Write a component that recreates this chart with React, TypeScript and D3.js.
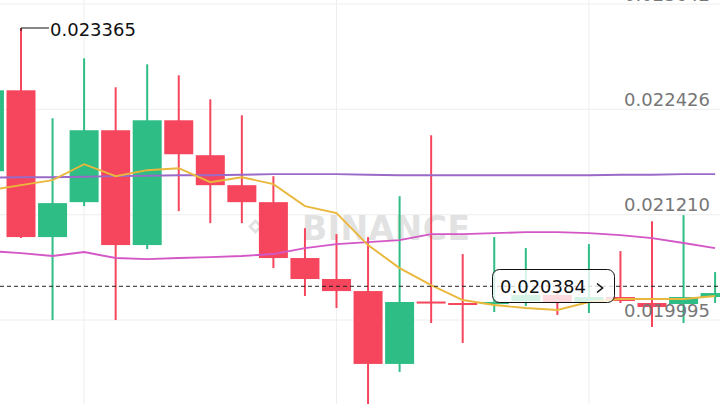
import React from "react";
import * as d3 from "d3";

const W = 720;
const H = 404;

// OHLC per candle (index -1 is partially cut at the left edge)
const candleIndex = [-1, 0, 1, 2, 3, 4, 5, 6, 7, 8, 9, 10, 11, 12, 13, 14, 15, 16, 17, 18, 19, 20, 21, 22];
const opens = [0.021712, 0.022646, 0.020952, 0.021355, 0.022185, 0.020860, 0.022300, 0.021897, 0.021551, 0.021355, 0.020710, 0.020468, 0.020329, 0.019488, 0.020208, 0.020191, 0.020179, 0.020214, 0.020283, 0.020203, 0.020260, 0.020191, 0.020179, 0.020260];
const highs = [0.022761, 0.023365, 0.022323, 0.023015, 0.022681, 0.022946, 0.022819, 0.022542, 0.022358, 0.021655, 0.021055, 0.020986, 0.020952, 0.021424, 0.022127, 0.020756, 0.020952, 0.020825, 0.020341, 0.020871, 0.020790, 0.021136, 0.021205, 0.020548];
const lows = [0.021609, 0.020940, 0.019995, 0.021309, 0.019995, 0.020813, 0.021251, 0.021113, 0.021113, 0.020594, 0.020272, 0.020133, 0.018981, 0.019396, 0.019960, 0.019730, 0.020087, 0.020156, 0.020053, 0.020076, 0.020191, 0.019914, 0.019960, 0.020191];
const closes = [0.022646, 0.020952, 0.021344, 0.022185, 0.020860, 0.022300, 0.021908, 0.021551, 0.021355, 0.020710, 0.020468, 0.020329, 0.019488, 0.020203, 0.020191, 0.020168, 0.020203, 0.020283, 0.020203, 0.020260, 0.020214, 0.020145, 0.020260, 0.020306];

// moving averages
const maYellow = [0.021493, 0.021551, 0.021609, 0.021793, 0.021655, 0.021724, 0.021747, 0.021586, 0.021643, 0.021563, 0.021309, 0.021228, 0.020860, 0.020594, 0.020398, 0.020226, 0.020168, 0.020133, 0.020110, 0.020203, 0.020237, 0.020237, 0.020237, 0.020272];
const maPink = [0.020790, 0.020767, 0.020733, 0.020779, 0.020710, 0.020698, 0.020710, 0.020721, 0.020733, 0.020756, 0.020825, 0.020871, 0.020894, 0.020917, 0.020986, 0.020986, 0.020998, 0.021009, 0.021009, 0.020998, 0.020975, 0.020940, 0.020883, 0.020825];
const maPurple = [0.021638, 0.021643, 0.021643, 0.021649, 0.021655, 0.021660, 0.021666, 0.021666, 0.021672, 0.021678, 0.021678, 0.021678, 0.021672, 0.021666, 0.021666, 0.021666, 0.021666, 0.021666, 0.021666, 0.021666, 0.021672, 0.021672, 0.021678, 0.021678];

const priceTicks = [0.023642, 0.022426, 0.02121, 0.019995];
const tickLabels = ["0.023642", "0.022426", "0.021210", "0.019995"];
const verticalGridIndex = [2, 10, 18];
const lastPrice = 0.020384;
const lastPriceLabel = "0.020384";
const highMarkIndex = 0;
const highMarkLabel = "0.023365";

const UP = "#2EBD85";
const DOWN = "#F6465D";

export default function App() {
  const x = d3.scaleLinear().domain([0, 22]).range([21, 715.1]);
  const y = d3.scaleLinear().domain([0.019995, 0.023642]).range([320, 4]);
  const bodyW = 29;

  const line = d3
    .line<number>()
    .x((_, i) => x(candleIndex[i]))
    .y((d) => y(d));

  const hx = x(highMarkIndex);
  const hy = y(highs[candleIndex.indexOf(highMarkIndex)]);
  const py = y(lastPrice);

  return (
    <svg
      width={W}
      height={H}
      style={{ position: "fixed", left: 0, top: 0, background: "#fff" }}
      fontFamily="DejaVu Sans, sans-serif"
    >
      {/* grid */}
      {priceTicks.map((t, i) => (
        <line key={"h" + i} x1={0} x2={W} y1={y(t)} y2={y(t)} stroke="#eeeeee" strokeWidth={1} />
      ))}
      {verticalGridIndex.map((v, i) => (
        <line key={"v" + i} x1={x(v)} x2={x(v)} y1={0} y2={H} stroke="#eeeeee" strokeWidth={1} />
      ))}

      {/* watermark */}
      <g fill="#e2e2e2">
        <path d="M255.5,219 L263,226.5 L255.5,234 L248,226.5 Z M255.5,223 L252,226.5 L255.5,230 L259,226.5 Z" fillRule="evenodd" />
        <text x={302} y={240} fontSize={33} fontWeight="bold" letterSpacing={0.5}>
          BINANCE
        </text>
      </g>

      {/* candles */}
      {candleIndex.map((ci, i) => {
        const o = opens[i];
        const c = closes[i];
        const up = c >= o;
        const col = up ? UP : DOWN;
        const cx = x(ci);
        const top = y(Math.max(o, c));
        const bot = y(Math.min(o, c));
        return (
          <g key={"c" + i}>
            <line x1={cx} x2={cx} y1={y(highs[i])} y2={y(lows[i])} stroke={col} strokeWidth={2} />
            <rect x={cx - bodyW / 2} y={top} width={bodyW} height={Math.max(2, bot - top)} fill={col} />
          </g>
        );
      })}

      {/* MA lines */}
      <path d={line(maPurple) || ""} fill="none" stroke="#9A6AC8" strokeWidth={1.9} />
      <path d={line(maPink) || ""} fill="none" stroke="#D457C6" strokeWidth={1.9} />
      <path d={line(maYellow) || ""} fill="none" stroke="#E9B73C" strokeWidth={1.9} />

      {/* last price dashed line */}
      <line x1={0} x2={W} y1={py} y2={py} stroke="#222" strokeWidth={1} strokeDasharray="4 3" />

      {/* axis labels */}
      {priceTicks.map((t, i) => (
        <text key={"t" + i} x={710} y={y(t) - 3.5} textAnchor="end" fontSize={18} fill="#777">
          {tickLabels[i]}
        </text>
      ))}

      {/* high marker */}
      <line x1={hx} x2={hx + 28} y1={hy} y2={hy} stroke="#111" strokeWidth={1} />
      <line x1={hx} x2={hx} y1={hy} y2={hy + 3} stroke="#111" strokeWidth={1} />
      <text x={hx + 29} y={hy + 7.5} fontSize={18} fill="#111">
        {highMarkLabel}
      </text>

      {/* last price label */}
      <rect x={492.5} y={269.5} width={122} height={33} rx={7} fill="#fff" fillOpacity={0.8} stroke="#111" strokeWidth={1} />
      <text x={500} y={293} fontSize={18} fill="#111">
        {lastPriceLabel}
      </text>
      <path d="M597,283.5 L602.5,288 L597,292.5" fill="none" stroke="#111" strokeWidth={1.6} />
    </svg>
  );
}
